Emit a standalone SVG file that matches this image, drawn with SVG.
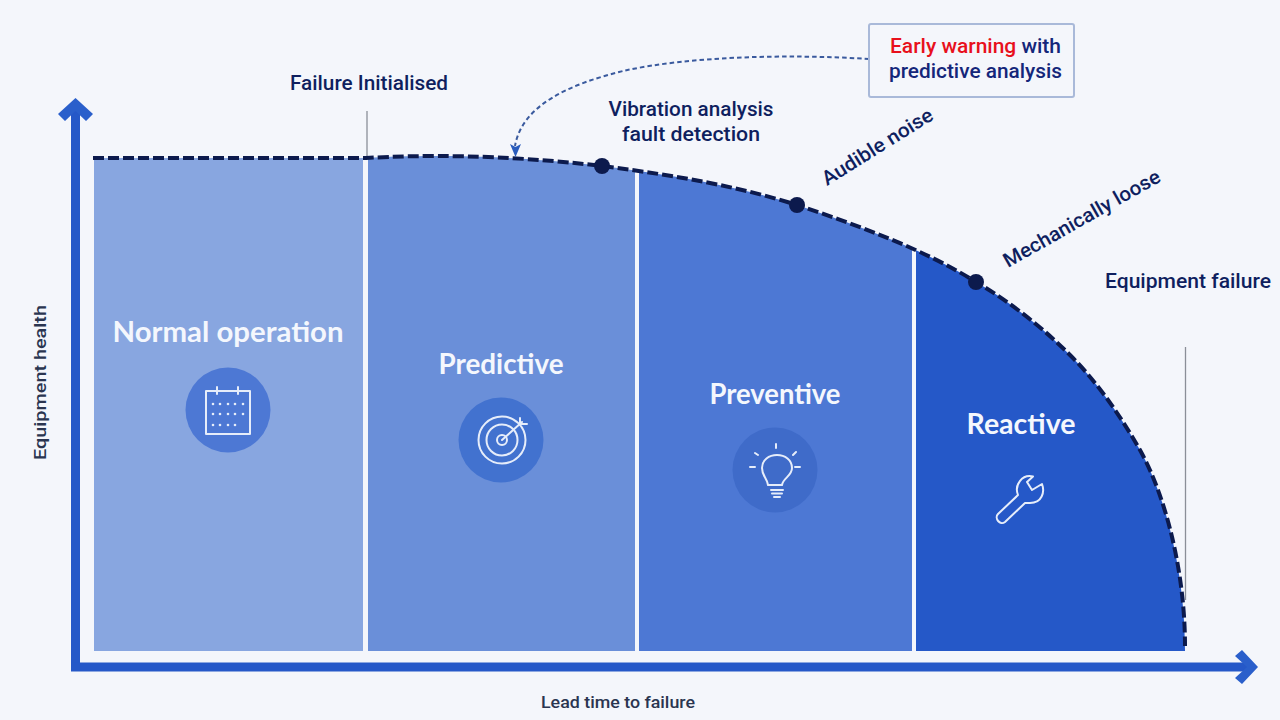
<svg xmlns="http://www.w3.org/2000/svg" width="1280" height="720" viewBox="0 0 1280 720">
<style>
.lab{font-family:"Roboto","Liberation Sans",sans-serif;font-weight:500;font-size:20px;fill:#0f1f5f}
.big{font-family:"Lato","Liberation Sans",sans-serif;font-weight:700;fill:#f4f7fd;font-size:28px;text-anchor:middle}
.ax{font-family:"Roboto","Liberation Sans",sans-serif;font-weight:500;font-size:16px;fill:#2a3550}
.ic{fill:none;stroke:#e6edfa;stroke-width:2;stroke-linecap:round;stroke-linejoin:round}
.tick{stroke:#8b8f98;stroke-width:1.300;fill:none}
</style>
<defs>
<clipPath id="under"><path d="M93 158L366 158C420 155 500 154 602 166C680 176 740 187 797 205C860 226 925 250 976 282C1010 302 1042 327 1070 355C1097 382 1120 415 1140 450C1165 495 1185 570 1185 651L93 651Z"/></clipPath>
</defs>
<rect width="1280" height="720" fill="#f4f6fb"/>
<g id="bands" clip-path="url(#under)">
<rect id="band-normal" x="94" y="140" width="269" height="511" fill="#88a6e0"/>
<rect id="band-predictive" x="368" y="140" width="267" height="511" fill="#6a8fd9"/>
<rect id="band-preventive" x="639" y="140" width="273" height="511" fill="#4d78d4"/>
<rect id="band-reactive" x="916" y="140" width="270" height="511" fill="#2558c8"/>
</g>
<g id="connectors">
<path id="tick-initialised" class="tick" d="M367 111V158"/>
<path id="tick-failure" class="tick" d="M1185.500 347V600"/>
<path id="curve" d="M93 158L366 158C420 155 500 154 602 166C680 176 740 187 797 205C860 226 925 250 976 282C1010 302 1042 327 1070 355C1097 382 1120 415 1140 450C1165 495 1185 570 1185 646" fill="none" stroke="#0c1a4d" stroke-width="4" stroke-dasharray="11 4"/>
<path id="warning-link" d="M869 59C790 54 690 56 623 71C570 84 522 105 515 146" fill="none" stroke="#3a5a9e" stroke-width="2" stroke-dasharray="4.500 3"/>
<path d="M515.500 157L510 144L515.500 147L521 144Z" fill="#2a5cbd"/>
<g id="axes">
<path d="M75.500 671V108" fill="none" stroke="#2558c8" stroke-width="9"/>
<path d="M71 667H1248" fill="none" stroke="#2558c8" stroke-width="9"/>
<path d="M75.500 98L93 114L86 121L75.500 111L65 121L58 114Z" fill="#2a5fcb"/>
<path d="M1258 667L1242 650L1235 656L1247 667L1235 678L1242 684Z" fill="#2a5fcb"/>
</g>
</g>
<g id="dots" fill="#0c1a4d">
<circle cx="602" cy="166" r="8"/>
<circle cx="797" cy="205" r="8"/>
<circle cx="976" cy="282" r="8"/>
</g>
<g id="normal-operation">
<text class="big" x="228" y="342" textLength="231" lengthAdjust="spacingAndGlyphs">Normal operation</text>
<circle cx="228" cy="410" r="42.500" fill="#4d78d4"/>
<g class="ic"><rect x="206" y="391" width="44" height="43"/><path d="M217 387V394M238 387V394"/></g>
<g fill="#e6edfa"><circle cx="213" cy="404" r="1.300"/><circle cx="220" cy="404" r="1.300"/><circle cx="228" cy="404" r="1.300"/><circle cx="235" cy="404" r="1.300"/><circle cx="243" cy="404" r="1.300"/><circle cx="213" cy="414" r="1.300"/><circle cx="220" cy="414" r="1.300"/><circle cx="228" cy="414" r="1.300"/><circle cx="235" cy="414" r="1.300"/><circle cx="243" cy="414" r="1.300"/><circle cx="213" cy="425" r="1.300"/><circle cx="220" cy="425" r="1.300"/><circle cx="228" cy="425" r="1.300"/><circle cx="235" cy="425" r="1.300"/></g>
</g>
<g id="predictive">
<text class="big" x="501" y="374" textLength="125" lengthAdjust="spacingAndGlyphs">Predictive</text>
<circle cx="501" cy="440" r="42.500" fill="#4272cf"/>
<g class="ic"><circle cx="502" cy="440" r="23.500"/><circle cx="502" cy="440" r="15.500"/><circle cx="502" cy="440" r="5"/><path d="M502 440L522 422M520 418V424H527"/></g>
</g>
<g id="preventive">
<text class="big" x="775" y="404" textLength="131" lengthAdjust="spacingAndGlyphs">Preventive</text>
<circle cx="775" cy="470" r="42.500" fill="#3f6bc9"/>
<g class="ic"><path d="M768 485C767 478 762 476 762 468C762 460 769 455 777 455C785 455 792 460 792 468C792 476 783 478 782 485Z"/><path d="M771 490H783M772 493.500H782M774 497H780M776 444V448M755 453L758 455M796 452L793 455M750 467H755M795 467H800"/></g>
</g>
<g id="reactive">
<text class="big" x="1021" y="434" textLength="109" lengthAdjust="spacingAndGlyphs">Reactive</text>
<path class="ic" d="M1033 476.500L1027 482L1032 490L1042 484C1045 492 1042 503 1030 503L1025 503L1005 522C1000 526 994 518 998 514L1018 495C1014 485 1022 474 1033 476.500Z"/>
</g>
<g id="failure-initialised"><text class="lab" x="290" y="90" textLength="158" lengthAdjust="spacingAndGlyphs">Failure Initialised</text></g>
<g id="vibration">
<text class="lab" x="691" y="116" text-anchor="middle" textLength="165" lengthAdjust="spacingAndGlyphs">Vibration analysis</text>
<text class="lab" x="691" y="141" text-anchor="middle" textLength="138" lengthAdjust="spacingAndGlyphs">fault detection</text>
</g>
<g id="audible"><text class="lab" transform="translate(827 186) rotate(-32)" textLength="127" lengthAdjust="spacingAndGlyphs">Audible noise</text></g>
<g id="mech"><text class="lab" transform="translate(1008 268) rotate(-29.500)" textLength="177" lengthAdjust="spacingAndGlyphs">Mechanically loose</text></g>
<g id="equipment-failure"><text class="lab" x="1105" y="288" textLength="166" lengthAdjust="spacingAndGlyphs">Equipment failure</text></g>
<g id="axis-labels">
<text class="ax" transform="translate(46 460) rotate(-90)" textLength="155" lengthAdjust="spacingAndGlyphs" style="font-size:17px">Equipment health</text>
<text class="ax" x="541" y="708" textLength="154" lengthAdjust="spacingAndGlyphs">Lead time to failure</text>
</g>
<g id="early-warning">
<rect x="869" y="24" width="205" height="73" rx="2" fill="#f4f6fb" stroke="#a9b9d9" stroke-width="2"/>
<text class="lab" x="890" y="53" textLength="171" lengthAdjust="spacingAndGlyphs"><tspan fill="#e8101c">Early warning</tspan><tspan fill="#14267a"> with</tspan></text>
<text class="lab" x="889" y="78" style="fill:#14267a" textLength="173" lengthAdjust="spacingAndGlyphs">predictive analysis</text>
</g>
</svg>
